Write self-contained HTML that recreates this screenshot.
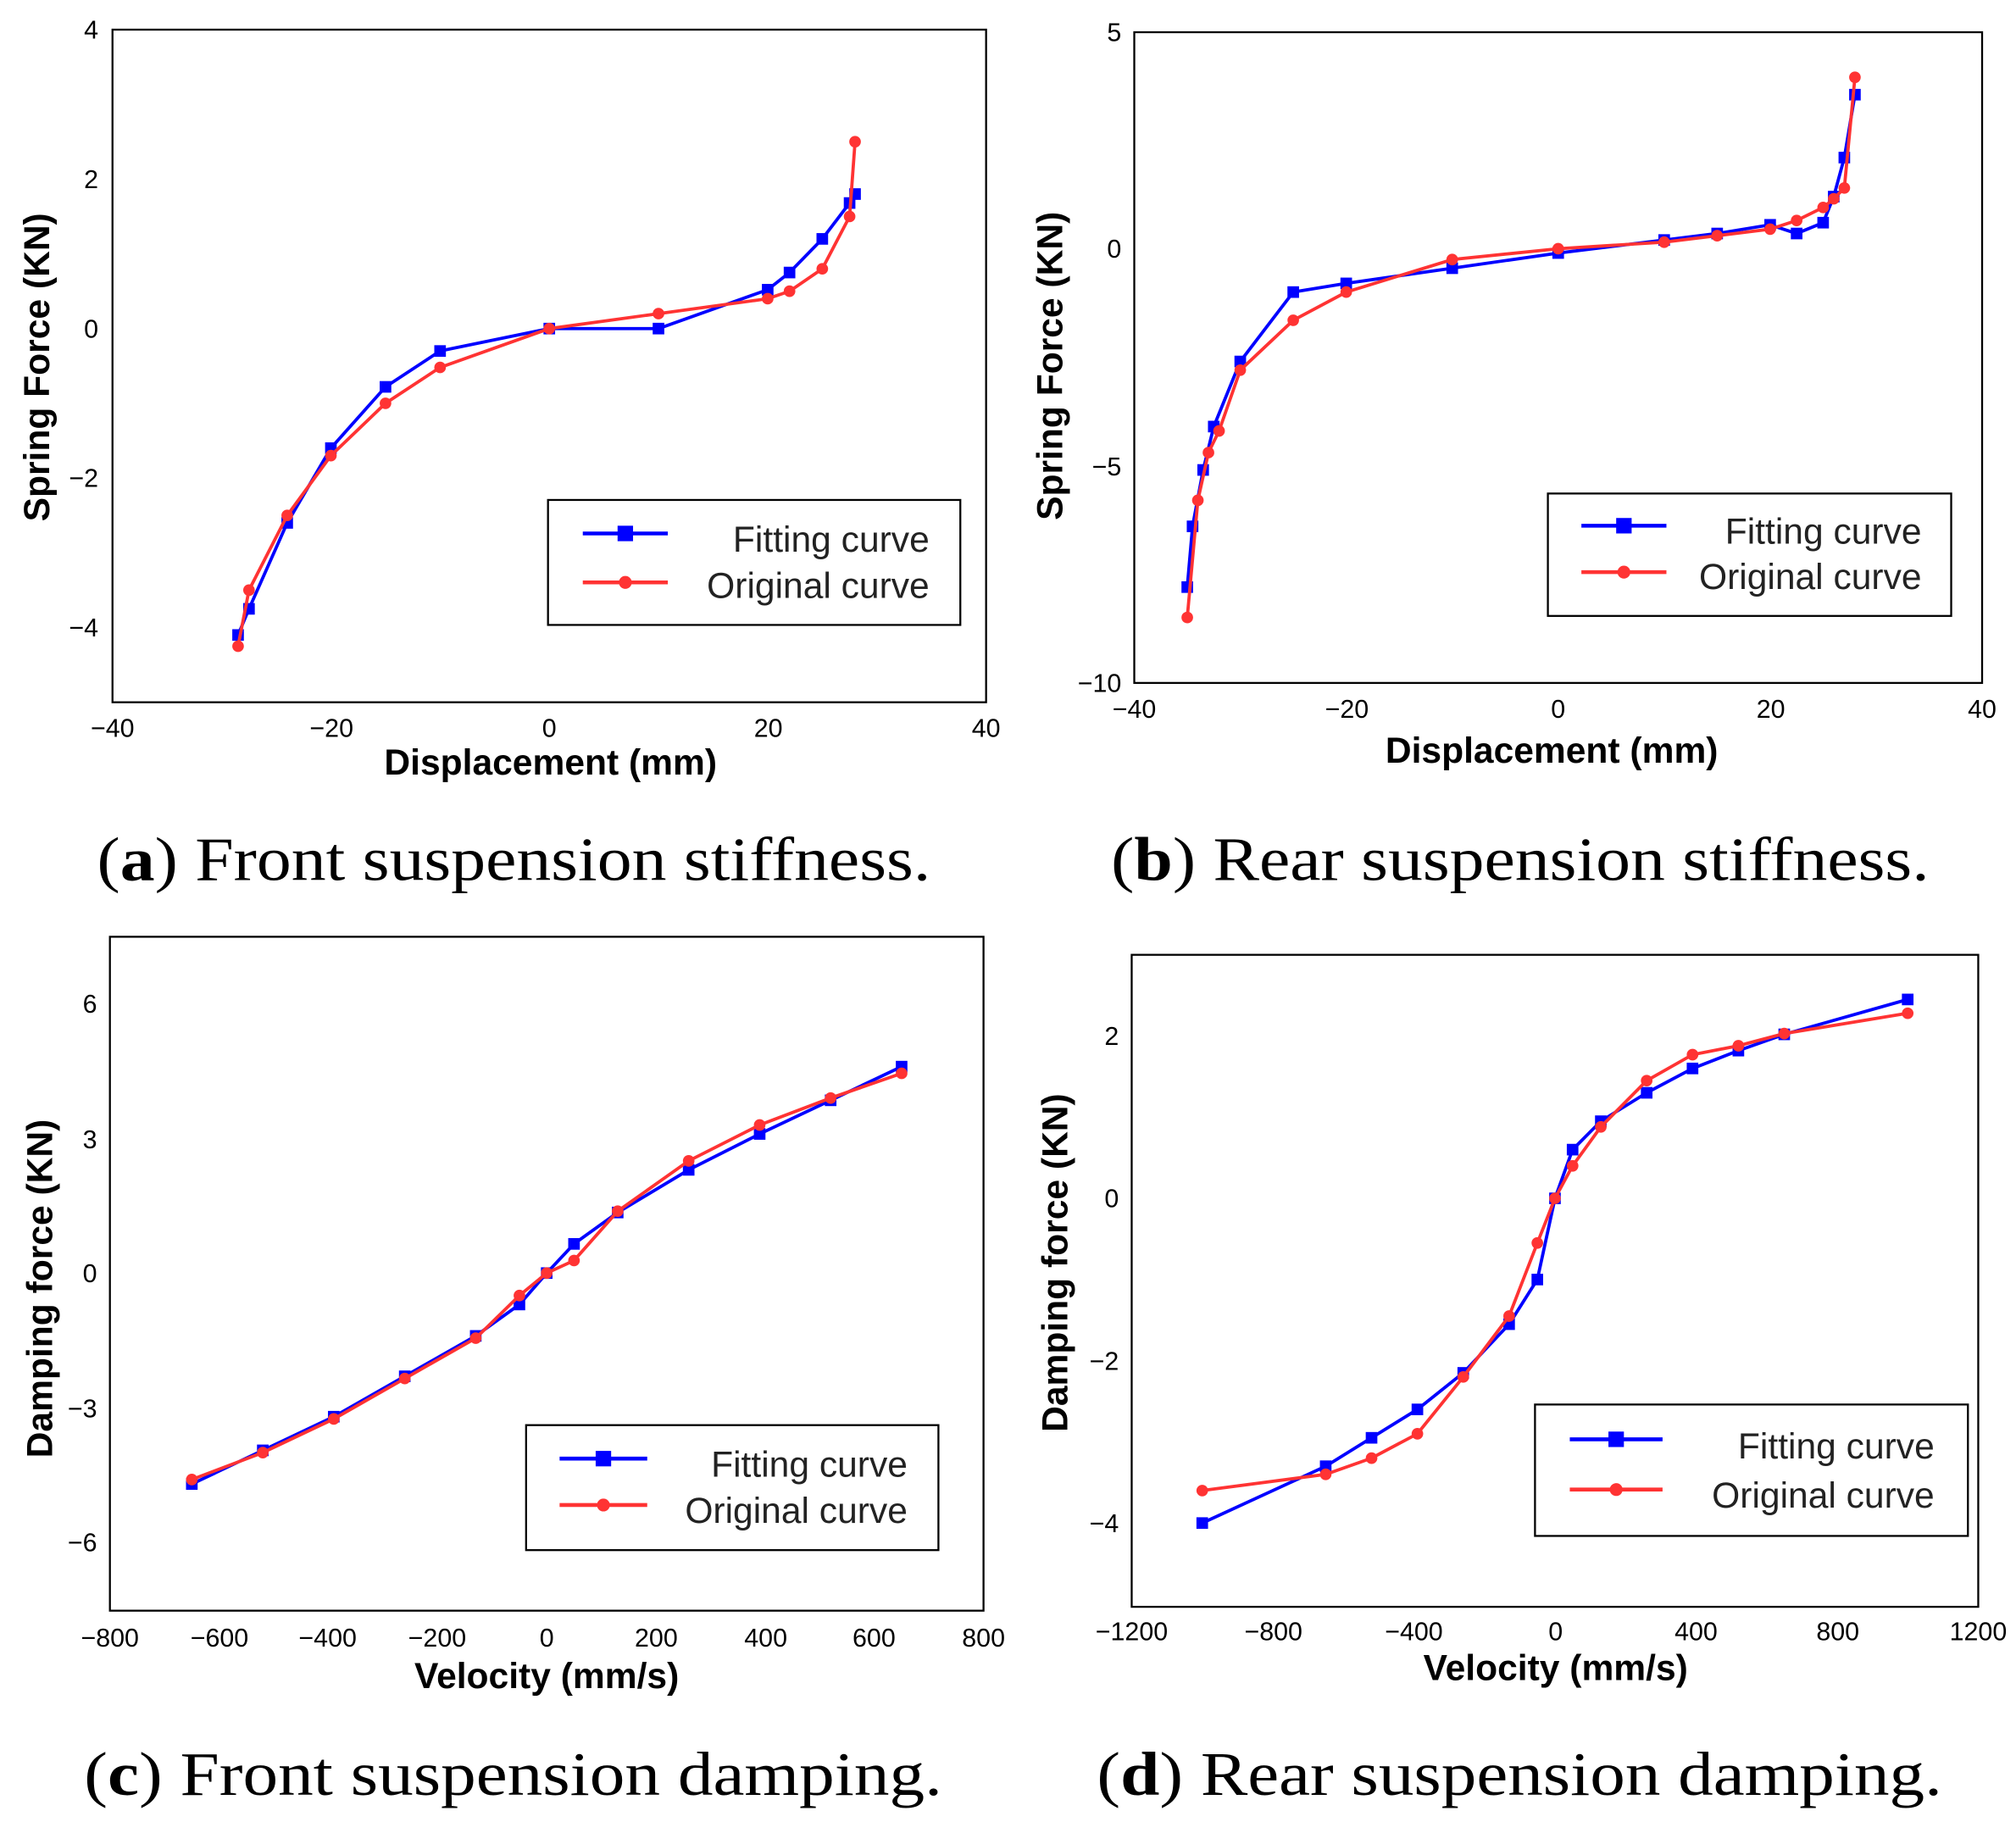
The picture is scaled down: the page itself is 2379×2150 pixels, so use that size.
<!DOCTYPE html>
<html><head><meta charset="utf-8"><style>
html,body{margin:0;padding:0;background:#fff}
svg{display:block}
.t{font-family:"Liberation Sans",sans-serif;font-size:20px;fill:#000}
.ax{font-family:"Liberation Sans",sans-serif;font-size:28px;font-weight:bold;fill:#000}
.lg{font-family:"Liberation Sans",sans-serif;font-size:28px;fill:#222}
.cap{font-family:"Liberation Serif",serif;font-size:48px;fill:#000}
</style></head><body>
<svg id="s" width="2379" height="2150" viewBox="0 0 1564 1414" xmlns="http://www.w3.org/2000/svg">
<rect width="1564" height="1414" fill="#fff"/>
<g fill="none" stroke="#000" stroke-width="1.5">
<rect x="87" y="23" width="678" height="522"/>
<rect x="880" y="25" width="658" height="505"/>
<rect x="85" y="727" width="678" height="523"/>
<rect x="878" y="741" width="657" height="506"/>
<rect x="425" y="388" width="320" height="97"/>
<rect x="1201" y="383" width="313" height="95"/>
<rect x="408" y="1106" width="320" height="97"/>
<rect x="1191" y="1090" width="336" height="102"/>
</g>
<g class="t" text-anchor="end">
<text x="76" y="30">4</text><text x="76" y="146">2</text><text x="76" y="262">0</text><text x="76" y="378">−2</text><text x="76" y="494">−4</text>
</g>
<g class="t" text-anchor="middle">
<text x="87" y="572">−40</text><text x="257" y="572">−20</text><text x="426" y="572">0</text><text x="596" y="572">20</text><text x="765" y="572">40</text>
</g>
<text class="ax" x="427" y="601" text-anchor="middle">Displacement (mm)</text>
<text class="ax" transform="translate(38,285) rotate(-90)" text-anchor="middle">Spring Force (KN)</text>
<g class="t" text-anchor="end">
<text x="870" y="32">5</text><text x="870" y="200">0</text><text x="870" y="369">−5</text><text x="870" y="537">−10</text>
</g>
<g class="t" text-anchor="middle">
<text x="880" y="557">−40</text><text x="1045" y="557">−20</text><text x="1209" y="557">0</text><text x="1374" y="557">20</text><text x="1538" y="557">40</text>
</g>
<text class="ax" x="1204" y="592" text-anchor="middle">Displacement (mm)</text>
<text class="ax" transform="translate(824,284) rotate(-90)" text-anchor="middle">Spring Force (KN)</text>
<g class="t" text-anchor="end">
<text x="75" y="786">6</text><text x="75" y="891">3</text><text x="75" y="995">0</text><text x="75" y="1100">−3</text><text x="75" y="1204">−6</text>
</g>
<g class="t" text-anchor="middle">
<text x="85" y="1278">−800</text><text x="170" y="1278">−600</text><text x="254" y="1278">−400</text><text x="339" y="1278">−200</text><text x="424" y="1278">0</text><text x="509" y="1278">200</text><text x="594" y="1278">400</text><text x="678" y="1278">600</text><text x="763" y="1278">800</text>
</g>
<text class="ax" x="424" y="1310" text-anchor="middle">Velocity (mm/s)</text>
<text class="ax" transform="translate(40,1000) rotate(-90)" text-anchor="middle">Damping force (KN)</text>
<g class="t" text-anchor="end">
<text x="868" y="811">2</text><text x="868" y="937">0</text><text x="868" y="1063">−2</text><text x="868" y="1189">−4</text>
</g>
<g class="t" text-anchor="middle">
<text x="878" y="1273">−1200</text><text x="988" y="1273">−800</text><text x="1097" y="1273">−400</text><text x="1207" y="1273">0</text><text x="1316" y="1273">400</text><text x="1426" y="1273">800</text><text x="1535" y="1273">1200</text>
</g>
<text class="ax" x="1207" y="1304" text-anchor="middle">Velocity (mm/s)</text>
<text class="ax" transform="translate(828,980) rotate(-90)" text-anchor="middle">Damping force (KN)</text>
<g id="leg"></g>
<text class="lg" x="721" y="428" text-anchor="end">Fitting curve</text>
<text class="lg" x="721" y="464" text-anchor="end">Original curve</text>
<text class="lg" x="1491" y="422" text-anchor="end">Fitting curve</text>
<text class="lg" x="1491" y="457" text-anchor="end">Original curve</text>
<text class="lg" x="704" y="1146" text-anchor="end">Fitting curve</text>
<text class="lg" x="704" y="1182" text-anchor="end">Original curve</text>
<text class="lg" x="1501" y="1132" text-anchor="end">Fitting curve</text>
<text class="lg" x="1501" y="1170" text-anchor="end">Original curve</text>
<text class="cap" x="75" y="683" textLength="647" lengthAdjust="spacingAndGlyphs">(<tspan font-weight="bold">a</tspan>) Front suspension stiffness.</text>
<text class="cap" x="862" y="683" textLength="635" lengthAdjust="spacingAndGlyphs">(<tspan font-weight="bold">b</tspan>) Rear suspension stiffness.</text>
<text class="cap" x="65" y="1393" textLength="666" lengthAdjust="spacingAndGlyphs">(<tspan font-weight="bold">c</tspan>) Front suspension damping.</text>
<text class="cap" x="851" y="1393" textLength="656" lengthAdjust="spacingAndGlyphs">(<tspan font-weight="bold">d</tspan>) Rear suspension damping.</text>
<g id="data"></g>
</svg>
<script>
var NS="http://www.w3.org/2000/svg",g=document.getElementById("data"),lg=document.getElementById("leg");
function el(p,n,a){var e=document.createElementNS(NS,n);for(var k in a)e.setAttribute(k,a[k]);p.appendChild(e);return e;}
function series(pts,fx,fy,col,sq){var s=pts.map(function(p){return fx(p[0])+","+fy(p[1])}).join(" ");
el(g,"polyline",{points:s,fill:"none",stroke:col,"stroke-width":2.5});
pts.forEach(function(p){var x=fx(p[0]),y=fy(p[1]);if(sq)el(g,"rect",{x:x-4.5,y:y-4.5,width:9,height:9,fill:col});else el(g,"circle",{cx:x,cy:y,r:4.5,fill:col});});}
function legend(x1,x2,y1,y2){el(lg,"line",{x1:x1,x2:x2,y1:y1,y2:y1,stroke:"#0000ff","stroke-width":3});el(lg,"rect",{x:(x1+x2)/2-6,y:y1-6,width:12,height:12,fill:"#0000ff"});
el(lg,"line",{x1:x1,x2:x2,y1:y2,y2:y2,stroke:"#ff3333","stroke-width":3});el(lg,"circle",{cx:(x1+x2)/2,cy:y2,r:5,fill:"#ff3333"});}
var B="#0000ff",R="#ff3333";
var ax=function(v){return 426+v*8.475},ay=function(v){return 255-v*58};
series([[-28.5,-4.1],[-27.5,-3.75],[-24,-2.6],[-20,-1.6],[-15,-0.78],[-10,-0.3],[0,0],[10,0],[20,0.52],[22,0.75],[25,1.2],[27.5,1.68],[28,1.8]],ax,ay,B,1);
series([[-28.5,-4.25],[-27.5,-3.5],[-24,-2.5],[-20,-1.7],[-15,-1.0],[-10,-0.52],[0,0],[10,0.2],[20,0.4],[22,0.5],[25,0.8],[27.5,1.5],[28,2.5]],ax,ay,R,0);
legend(452,518,414,452);
var bx=function(v){return 1209+v*8.225},by=function(v){return 193-v*33.67};
series([[-35,-7.8],[-34.5,-6.4],[-33.5,-5.1],[-32.5,-4.1],[-30,-2.6],[-25,-1.0],[-20,-0.8],[-10,-0.45],[0,-0.1],[10,0.2],[15,0.35],[20,0.55],[22.5,0.35],[25,0.6],[26,1.2],[27,2.1],[28,3.55]],bx,by,B,1);
series([[-35,-8.5],[-34,-5.8],[-33,-4.7],[-32,-4.2],[-30,-2.8],[-25,-1.65],[-20,-1.0],[-10,-0.25],[0,0],[10,0.15],[15,0.3],[20,0.45],[22.5,0.65],[25,0.95],[26,1.15],[27,1.4],[28,3.95]],bx,by,R,0);
legend(1227,1293,408,444);
var cx=function(v){return 424+v*0.42375},cy=function(v){return 988-v*34.83};
series([[-650,-4.7],[-520,-3.95],[-390,-3.2],[-260,-2.3],[-130,-1.4],[-50,-0.7],[0,0],[50,0.65],[130,1.35],[260,2.3],[390,3.1],[520,3.85],[650,4.6]],cx,cy,B,1);
series([[-650,-4.6],[-520,-4.0],[-390,-3.25],[-260,-2.35],[-130,-1.45],[-50,-0.5],[0,0],[50,0.28],[130,1.38],[260,2.5],[390,3.3],[520,3.9],[650,4.45]],cx,cy,R,0);
legend(434,502,1132,1168);
var dx=function(v){return 1206.5+v*0.27375},dy=function(v){return 930-v*63};
series([[-1000,-4.0],[-650,-3.3],[-520,-2.95],[-390,-2.6],[-260,-2.15],[-130,-1.55],[-50,-1.0],[0,0],[50,0.6],[130,0.95],[260,1.3],[390,1.6],[520,1.82],[650,2.02],[1000,2.45]],dx,dy,B,1);
series([[-1000,-3.6],[-650,-3.4],[-520,-3.2],[-390,-2.9],[-260,-2.2],[-130,-1.45],[-50,-0.55],[0,0],[50,0.4],[130,0.88],[260,1.45],[390,1.77],[520,1.88],[650,2.03],[1000,2.28]],dx,dy,R,0);
legend(1218,1290,1117,1156);
</script>
</body></html>
